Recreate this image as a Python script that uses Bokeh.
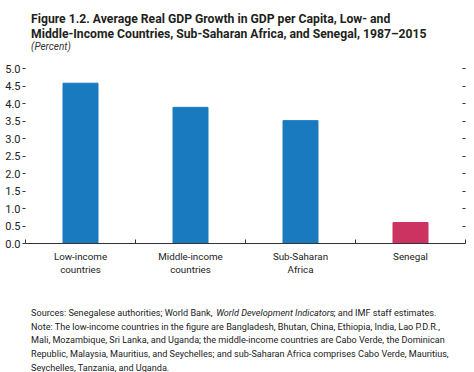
import glob
from bokeh.plotting import figure
from bokeh.layouts import column
from bokeh.models import (ColumnDataSource, FixedTicker, LinearAxis, Label, Range1d)
from bokeh.embed import file_html
from bokeh.resources import INLINE

# ---- data ----
categories = ["Low-income\ncountries", "Middle-income\ncountries", "Sub-Saharan\nAfrica", "Senegal"]
values = [4.58, 3.89, 3.51, 0.60]
colors = ["#1a7abf", "#1a7abf", "#1a7abf", "#cc3360"]
y_ticks = [0.0, 0.5, 1.0, 1.5, 2.0, 2.5, 3.0, 3.5, 4.0, 4.5, 5.0]

title_1 = "Figure 1.2. Average Real GDP Growth in GDP per Capita, Low- and"
title_2 = "Middle-Income Countries, Sub-Saharan Africa, and Senegal, 1987\u20132015"
subtitle = "(Percent)"
src_a = "Sources: Senegalese authorities; World Bank, "
src_b = "World Development Indicators"
src_c = "; and IMF staff estimates."
notes = [
    "Note: The low-income countries in the figure are Bangladesh, Bhutan, China, Ethiopia, India, Lao P.D.R.,",
    "Mali, Mozambique, Sri Lanka, and Uganda; the middle-income countries are Cabo Verde, the Dominican",
    "Republic, Malaysia, Mauritius, and Seychelles; and sub-Saharan Africa comprises Cabo Verde, Mauritius,",
    "Seychelles, Tanzania, and Uganda.",
]

FONT = "Roboto"
NOTE_SIZE = 9.1
W = 474
HEAD_H, MAIN_H, FOOT_H = 58, 232, 82


# ---- measure text widths (for placing the inline italic run) ----
def find_font(name):
    for root in ("/usr/share/fonts", "/usr/local/share/fonts", "/root/.fonts"):
        hits = sorted(glob.glob(f"{root}/**/{name}", recursive=True))
        if hits:
            return hits[0]
    return None


def measure(text, fname, size, fallback, k):
    try:
        from PIL import ImageFont
        path = find_font(fname)
        if path is None:
            return fallback
        f = ImageFont.truetype(path, 200)
        return f.getlength(text) * size / 200.0 * k
    except Exception:
        return fallback


wa = measure(src_a, "Roboto-Regular.ttf", NOTE_SIZE, 208.0, 1.085)
wb = measure(src_b, "Roboto-Italic.ttf", NOTE_SIZE, 118.0, 1.07)


def text_panel(h):
    f = figure(width=W, height=h, output_backend="svg", toolbar_location=None,
               x_range=Range1d(0, W), y_range=Range1d(0, h),
               min_border=0, x_axis_location=None, y_axis_location=None)
    f.outline_line_color = None
    f.grid.visible = False
    return f


def add_text(f, txt, x, y, size, style="normal", color="#222222", align="left"):
    f.add_layout(Label(x=x, y=y, text=txt, text_font=FONT, text_font_size=size,
                       text_font_style=style, text_color=color,
                       text_baseline="alphabetic", text_align=align))


# ---- header ----
head = text_panel(HEAD_H)
add_text(head, title_1, 6, 40, "12.2px", "bold", "#231f20")
add_text(head, title_2, 6, 25, "12.2px", "bold", "#231f20")
add_text(head, subtitle, 6, 12, "10px", "italic", "#333333")

# ---- main chart ----
xpos = [i + 0.5 for i in range(len(categories))]
src = ColumnDataSource(dict(x=xpos, top=values, color=colors))

p = figure(width=W, height=MAIN_H, output_backend="svg", toolbar_location=None,
           x_range=Range1d(0, len(categories)), y_range=Range1d(0, 5.2),
           min_border_left=25, min_border_right=9, min_border_top=3,
           min_border_bottom=47, x_axis_location=None, y_axis_location=None)
p.outline_line_color = None
p.grid.visible = False

p.vbar(x="x", top="top", width=0.318, color="color", source=src)

xa = LinearAxis(ticker=FixedTicker(ticks=xpos, minor_ticks=list(range(len(categories) + 1))))
xa.major_label_overrides = {v: c for v, c in zip(xpos, categories)}
xa.major_tick_in = 0
xa.major_tick_out = 0
xa.minor_tick_in = 4
xa.minor_tick_out = 0
xa.minor_tick_line_color = "#333333"
xa.axis_line_color = "#333333"
xa.major_label_text_font = FONT
xa.major_label_text_font_size = "9.8px"
xa.major_label_text_color = "#222222"
xa.major_label_standoff = 7
p.add_layout(xa, "below")

ya = LinearAxis(ticker=FixedTicker(ticks=y_ticks))
ya.major_label_overrides = {v: f"{v:.1f}" for v in y_ticks}
ya.axis_line_color = None
ya.major_tick_in = 0
ya.major_tick_out = 3
ya.minor_tick_line_color = None
ya.major_tick_line_color = "#333333"
ya.major_label_text_font = FONT
ya.major_label_text_font_size = "11px"
ya.major_label_text_color = "#222222"
ya.major_label_standoff = 2
p.add_layout(ya, "left")

ra = LinearAxis(ticker=FixedTicker(ticks=y_ticks[1:]))
ra.major_label_overrides = {v: "" for v in y_ticks[1:]}
ra.axis_line_color = None
ra.major_tick_in = 3
ra.major_tick_out = 0
ra.minor_tick_line_color = None
ra.major_tick_line_color = "#333333"
ra.major_label_standoff = 0
p.add_layout(ra, "right")

# ---- footer ----
fs = f"{NOTE_SIZE}px"
foot = text_panel(FOOT_H)
x0 = 6
add_text(foot, src_a, x0, 60, fs)
add_text(foot, src_b, x0 + wa, 60, fs, "italic")
add_text(foot, src_c, x0 + wa + wb, 60, fs)
for i, n in enumerate(notes):
    add_text(foot, n, x0, 46 - 13.8 * i, fs)

layout = column(head, p, foot, spacing=0)
open("out.html", "w").write(file_html(layout, INLINE))
